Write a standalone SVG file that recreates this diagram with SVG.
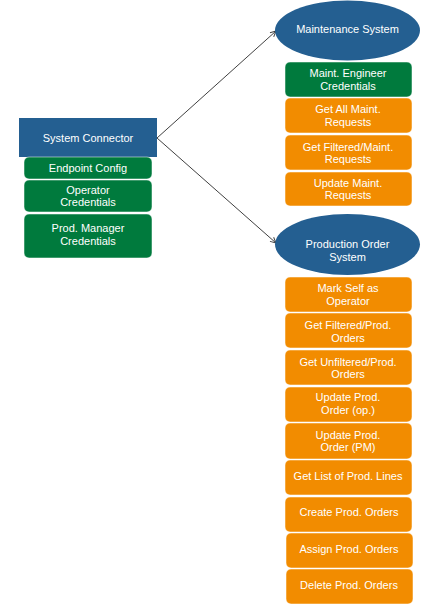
<svg xmlns="http://www.w3.org/2000/svg" width="441" height="605" viewBox="0 0 441 605">
<defs>
<style>
text{font-family:"Liberation Sans",Arial,sans-serif;font-size:11px;fill:#fff;text-anchor:middle}
.g{fill:#007a3d;stroke:#ffffff;stroke-opacity:0.5;stroke-width:1}
.o{fill:#f28c00;stroke:#ffffff;stroke-opacity:0.5;stroke-width:1}
.b{fill:#245f91}
.c{stroke:#404040;stroke-width:1;fill:none;marker-end:url(#ah)}
</style>
<marker id="ah" viewBox="0 0 10 10" refX="9" refY="5" markerWidth="7" markerHeight="7" orient="auto" markerUnits="userSpaceOnUse">
<path d="M1,1 L9,5 L1,9" fill="none" stroke="#404040" stroke-width="1.4"/>
</marker>
</defs>
<rect width="441" height="605" fill="#fff"/>
<g id="connectors">
<line class="c" x1="157" y1="138" x2="276" y2="31"/>
<line class="c" x1="157" y1="138" x2="276" y2="243"/>
</g>
<g id="system-connector">
<rect class="b" x="19" y="118" width="138" height="39"/>
<text x="88" y="142">System Connector</text>
</g>
<g id="endpoint-config">
<rect class="g" x="24" y="157" width="128" height="22" rx="5"/>
<text x="88" y="172">Endpoint Config</text>
</g>
<g id="operator-credentials">
<rect class="g" x="24" y="180" width="128" height="32" rx="5"/>
<text x="88" y="194">Operator</text>
<text x="88" y="206">Credentials</text>
</g>
<g id="pm-credentials">
<rect class="g" x="24" y="214" width="128" height="44" rx="5"/>
<text x="88" y="232">Prod. Manager</text>
<text x="88" y="245">Credentials</text>
</g>
<g id="maintenance-system">
<ellipse class="b" cx="347.5" cy="30.5" rx="72.5" ry="30"/>
<text x="347.5" y="33">Maintenance System</text>
</g>
<g id="maint-engineer-credentials">
<rect class="g" x="285" y="62" width="127" height="35" rx="5"/>
<text x="348" y="77">Maint. Engineer</text>
<text x="348" y="90">Credentials</text>
</g>
<g id="get-all-maint">
<rect class="o" x="285" y="98" width="127" height="35" rx="5"/>
<text x="348" y="113">Get All Maint.</text>
<text x="348" y="126">Requests</text>
</g>
<g id="get-filtered-maint">
<rect class="o" x="285" y="135" width="127" height="35" rx="5"/>
<text x="348" y="151">Get Filtered/Maint.</text>
<text x="348" y="163">Requests</text>
</g>
<g id="update-maint">
<rect class="o" x="285" y="172" width="127" height="34" rx="5"/>
<text x="348" y="187">Update Maint.</text>
<text x="348" y="199">Requests</text>
</g>
<g id="production-order-system">
<ellipse class="b" cx="347.5" cy="244.5" rx="72.5" ry="30.5"/>
<text x="347.5" y="248">Production Order</text>
<text x="347.5" y="261">System</text>
</g>
<g id="mark-self">
<rect class="o" x="285" y="277" width="127" height="35" rx="5"/>
<text x="348" y="292">Mark Self as</text>
<text x="348" y="305">Operator</text>
</g>
<g id="get-filtered-prod">
<rect class="o" x="285" y="313" width="127" height="35" rx="5"/>
<text x="348" y="329">Get Filtered/Prod.</text>
<text x="348" y="342">Orders</text>
</g>
<g id="get-unfiltered-prod">
<rect class="o" x="285" y="350" width="127" height="35" rx="5"/>
<text x="348" y="366">Get Unfiltered/Prod.</text>
<text x="348" y="378">Orders</text>
</g>
<g id="update-prod-op">
<rect class="o" x="285" y="387" width="127" height="35" rx="5"/>
<text x="348" y="401">Update Prod.</text>
<text x="348" y="414">Order (op.)</text>
</g>
<g id="update-prod-pm">
<rect class="o" x="285" y="423" width="127" height="36" rx="5"/>
<text x="348" y="439">Update Prod.</text>
<text x="348" y="451">Order (PM)</text>
</g>
<g id="get-list-prod-lines">
<rect class="o" x="285" y="460" width="127" height="35" rx="5"/>
<text x="348" y="480">Get List of Prod. Lines</text>
</g>
<g id="create-prod-orders">
<rect class="o" x="285" y="497" width="127" height="35" rx="5"/>
<text x="349" y="516">Create Prod. Orders</text>
</g>
<g id="assign-prod-orders">
<rect class="o" x="286" y="533" width="127" height="35" rx="5"/>
<text x="349" y="553">Assign Prod. Orders</text>
</g>
<g id="delete-prod-orders">
<rect class="o" x="286" y="569" width="127" height="35" rx="5"/>
<text x="349" y="589">Delete Prod. Orders</text>
</g>
</svg>
